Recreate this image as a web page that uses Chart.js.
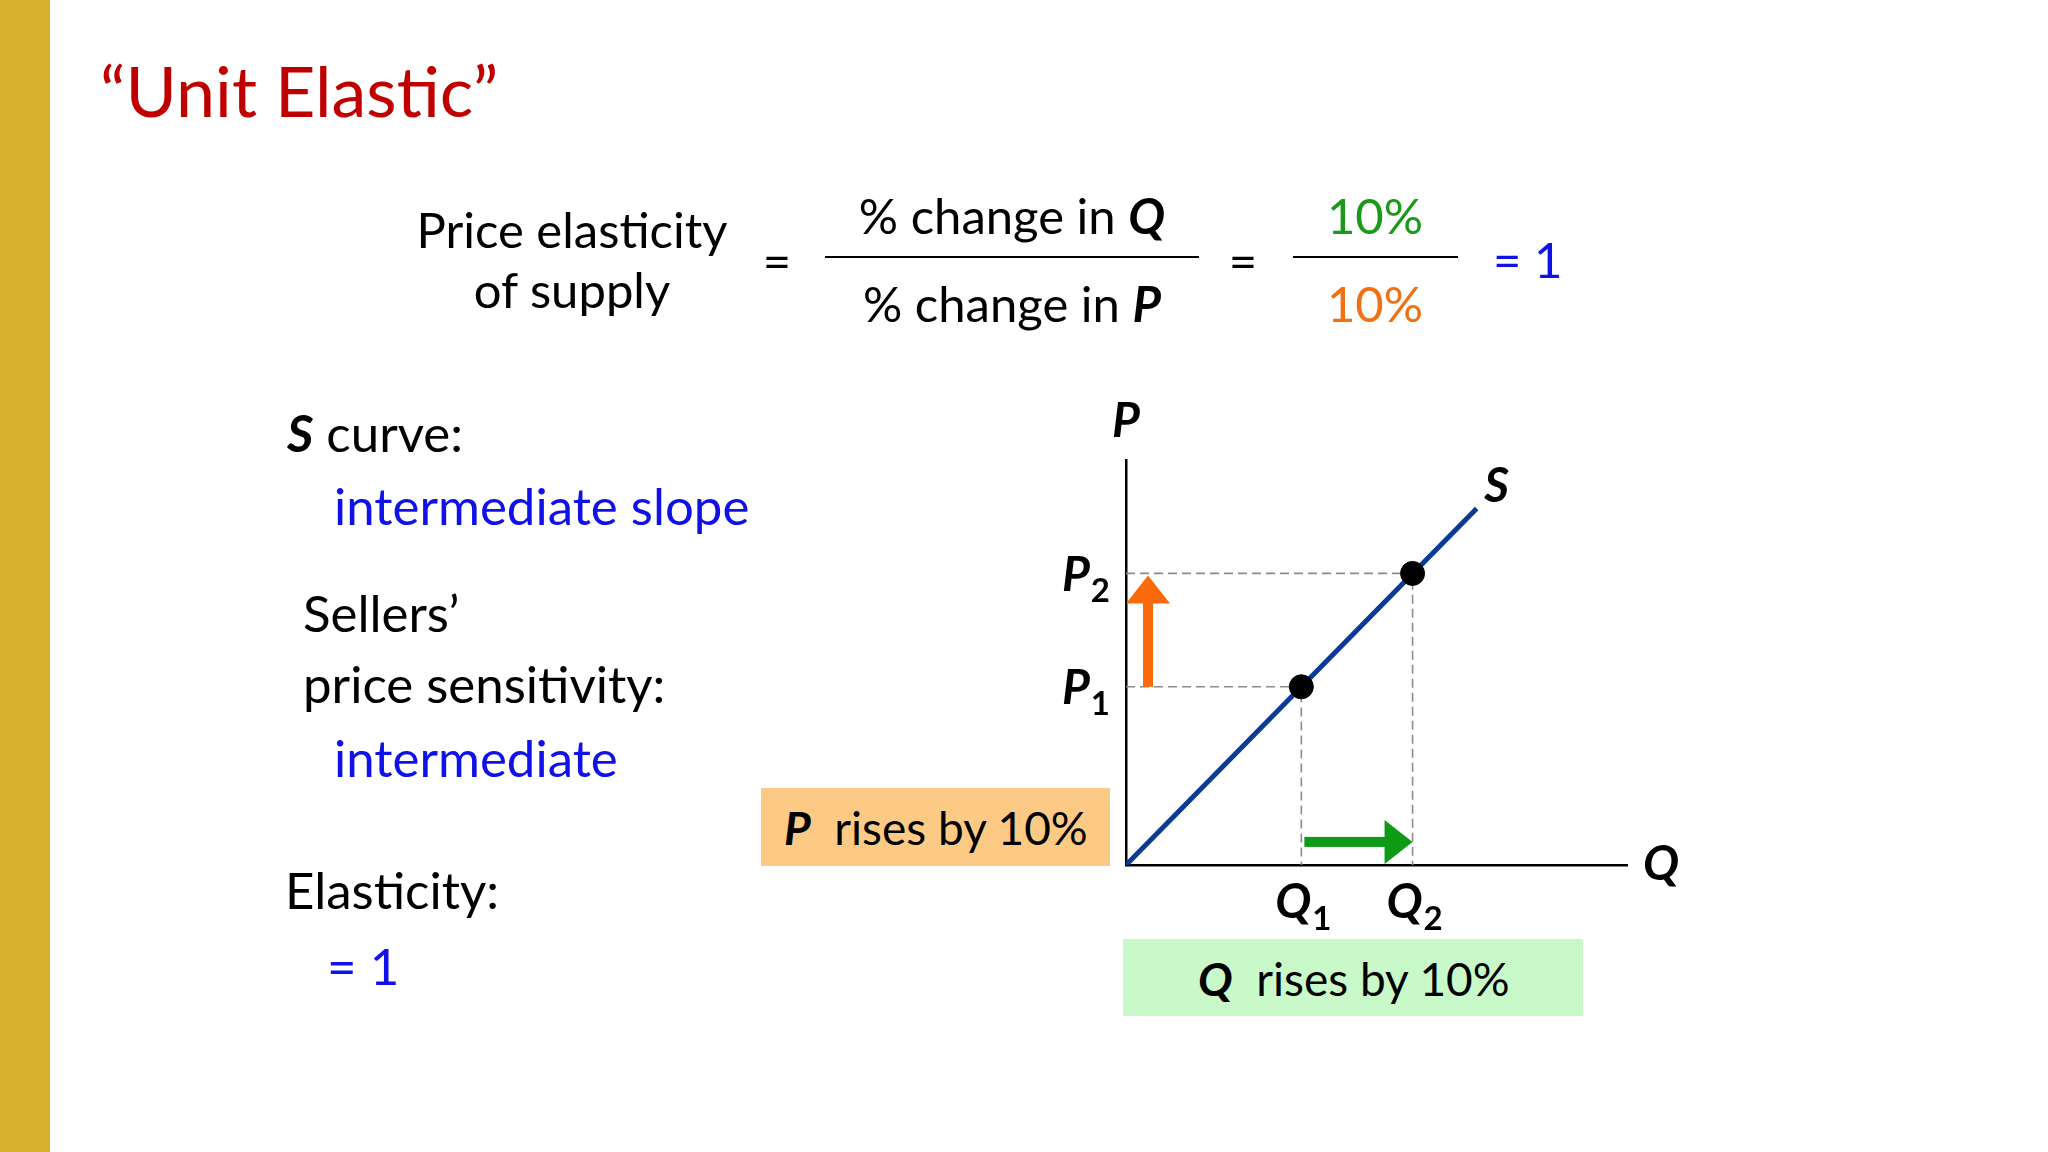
<!DOCTYPE html>
<html>
<head>
<meta charset="utf-8">
<script src="https://cdn.jsdelivr.net/npm/chart.js@4.4.1/dist/chart.umd.min.js"></script>
<style>
  html, body { margin: 0; padding: 0; background: #ffffff; }
  body { width: 2048px; height: 1152px; position: relative; overflow: hidden; font-family: Lato, "Open Sans", sans-serif; }
  #bar { position: absolute; left: 0; top: 0; width: 50px; height: 1152px; background: #d6b02e; }
  #canvas { position: absolute; left: 0; top: 0; }
  .t { position: absolute; white-space: nowrap; line-height: 1; transform: translateY(-50%); font-size: 51px; color: #000; }
  .f { font-size: 49px; }
  .c { transform: translate(-50%, -50%); text-align: center; }
  .blue { color: #1010e8; }
  .bi { font-weight: bold; font-style: italic; }
  .rule { position: absolute; height: 2px; background: #000; }
  .box { position: absolute; }
</style>
</head>
<body>
<div id="bar"></div>
<canvas id="canvas" width="2048" height="1152"></canvas>

<div class="t" style="left:100px; top:90px; font-size:70px; color:#c00000;">“Unit Elastic”</div>

<div class="t f c" style="left:572px; top:229px;">Price elasticity</div>
<div class="t f c" style="left:572px; top:289px;">of supply</div>
<div class="t f c" style="left:777px; top:260px;">=</div>
<div class="rule" style="left:825px; top:256px; width:374px;"></div>
<div class="t f c" style="left:1012px; top:215px;">% change in <span class="bi">Q</span></div>
<div class="t f c" style="left:1012px; top:303px;">% change in <span class="bi">P</span></div>
<div class="t f c" style="left:1243px; top:260px;">=</div>
<div class="rule" style="left:1293px; top:256px; width:165px;"></div>
<div class="t f c" style="left:1375px; top:215px; color:#1a9a1a;">10%</div>
<div class="t f c" style="left:1375px; top:303px; color:#f07014;">10%</div>
<div class="t f blue" style="left:1493px; top:259px;">= 1</div>

<div class="t" style="left:287px; top:432px;"><span class="bi">S</span> curve:</div>
<div class="t blue" style="left:334px; top:505px;">intermediate slope</div>
<div class="t" style="left:303px; top:612px;">Sellers’</div>
<div class="t" style="left:303px; top:683px;">price sensitivity:</div>
<div class="t blue" style="left:334px; top:757px;">intermediate</div>
<div class="t" style="left:285px; top:889px;">Elasticity:</div>
<div class="t blue" style="left:327px; top:965px;">= 1</div>

<div class="box" style="left:761px; top:788px; width:349px; height:78px; background:#fdca86;"></div>
<div class="t" style="left:784px; top:828px; font-size:46px;"><span class="bi">P</span>&nbsp; rises by 10%</div>
<div class="box" style="left:1123px; top:939px; width:460px; height:77px; background:#c9f9c9;"></div>
<div class="t" style="left:1198px; top:979px; font-size:46px;"><span class="bi">Q</span>&nbsp; rises by 10%</div>

<script>
// supply curve, straight line through the origin
var supplyQ = [0, 7.0];
var supplyP = [0, 8.8];

// the two market points (before / after)
var pointQ = [3.5, 5.72];
var pointP = [4.4, 7.2];
var pointSubs = ['1', '2'];

// arrow positions (in axis units)
var priceArrowQ = 0.44;
var quantityArrowP = 0.57;

var axisMax = 10;

var supplyData = [];
for (var i = 0; i < supplyQ.length; i++) {
    supplyData.push({x: supplyQ[i], y: supplyP[i]});
}
var pointData = [];
for (var i = 0; i < pointQ.length; i++) {
    pointData.push({x: pointQ[i], y: pointP[i]});
}

function guideData(k) {
    return [
        {x: 0, y: pointP[k]},
        {x: pointQ[k], y: pointP[k]},
        {x: pointQ[k], y: 0}
    ];
}

var guideStyle = {
    showLine: true,
    borderColor: '#8c8c8c',
    borderWidth: 1.6,
    borderDash: [9, 5],
    pointRadius: 0,
    fill: false
};

function drawSub(ctx, main, sub, x, y, align) {
    ctx.font = 'italic bold 48px Lato';
    var w1 = ctx.measureText(main).width;
    ctx.font = 'bold 33px Lato';
    var w2 = ctx.measureText(sub).width;
    var total = w1 + w2 + 1;
    var left = x;
    if (align === 'right') left = x - total;
    if (align === 'center') left = x - total / 2;
    ctx.textAlign = 'left';
    ctx.textBaseline = 'middle';
    ctx.font = 'italic bold 48px Lato';
    ctx.fillText(main, left, y);
    ctx.font = 'bold 33px Lato';
    ctx.fillText(sub, left + w1 + 1, y + 16);
}

function arrowUp(ctx, x, y0, y1, color) {
    ctx.fillStyle = color;
    ctx.fillRect(x - 5, y1 + 26, 10, y0 - y1 - 26);
    ctx.beginPath();
    ctx.moveTo(x, y1);
    ctx.lineTo(x - 22, y1 + 28);
    ctx.lineTo(x + 22, y1 + 28);
    ctx.closePath();
    ctx.fill();
}

function arrowRight(ctx, y, x0, x1, color) {
    ctx.fillStyle = color;
    ctx.fillRect(x0, y - 5, x1 - x0 - 26, 10);
    ctx.beginPath();
    ctx.moveTo(x1, y);
    ctx.lineTo(x1 - 28, y - 22);
    ctx.lineTo(x1 - 28, y + 22);
    ctx.closePath();
    ctx.fill();
}

var labelPlugin = {
    id: 'labels',
    afterDatasetsDraw: function(chart) {
        var ctx = chart.ctx;
        var xs = chart.scales.x, ys = chart.scales.y;
        var ox = xs.getPixelForValue(0), oy = ys.getPixelForValue(0);
        ctx.save();

        // arrows
        arrowUp(ctx, xs.getPixelForValue(priceArrowQ),
            ys.getPixelForValue(pointP[0]), ys.getPixelForValue(pointP[1]) + 2, '#fa6a0a');
        arrowRight(ctx, ys.getPixelForValue(quantityArrowP),
            xs.getPixelForValue(pointQ[0]) + 3, xs.getPixelForValue(pointQ[1]), '#0e9a14');

        // axis names
        ctx.fillStyle = '#000';
        ctx.font = 'italic bold 48px Lato';
        ctx.textAlign = 'center';
        ctx.textBaseline = 'middle';
        ctx.fillText('P', ox, ys.getPixelForValue(axisMax) - 38);
        ctx.fillText('Q', xs.getPixelForValue(axisMax) + 34, oy);
        var last = supplyQ.length - 1;
        ctx.fillText('S', xs.getPixelForValue(supplyQ[last]) + 20, ys.getPixelForValue(supplyP[last]) - 22);

        // tick labels with subscripts
        for (var i = 0; i < pointQ.length; i++) {
            drawSub(ctx, 'P', pointSubs[i], ox - 16, ys.getPixelForValue(pointP[i]) + 2, 'right');
            drawSub(ctx, 'Q', pointSubs[i], xs.getPixelForValue(pointQ[i]) + 2, oy + 38, 'center');
        }
        ctx.restore();
    }
};

var config = {
    type: 'scatter',
    data: {
        datasets: [{
            label: 'points',
            data: pointData,
            backgroundColor: '#000',
            borderColor: '#000',
            pointRadius: 12,
            showLine: false
        }, {
            label: 'S',
            data: supplyData,
            showLine: true,
            borderColor: '#0c3a94',
            borderWidth: 5,
            pointRadius: 0,
            fill: false
        }, Object.assign({label: 'guide 1', data: guideData(0)}, guideStyle),
           Object.assign({label: 'guide 2', data: guideData(1)}, guideStyle)]
    },
    options: {
        responsive: false,
        animation: false,
        devicePixelRatio: 1,
        layout: {
            padding: {left: 1118, right: 421, top: 460, bottom: 279}
        },
        plugins: {
            legend: {display: false},
            tooltip: {enabled: false}
        },
        scales: {
            x: {
                type: 'linear',
                min: 0,
                max: axisMax,
                ticks: {display: false},
                grid: {display: false},
                border: {display: true, color: '#000', width: 2.5}
            },
            y: {
                type: 'linear',
                min: 0,
                max: axisMax,
                ticks: {display: false},
                grid: {display: false},
                border: {display: true, color: '#000', width: 2.5}
            }
        }
    },
    plugins: [labelPlugin]
};

window.onload = function() {
    var ctx = document.getElementById('canvas').getContext('2d');
    window.myChart = new Chart(ctx, config);
};
</script>
</body>
</html>
